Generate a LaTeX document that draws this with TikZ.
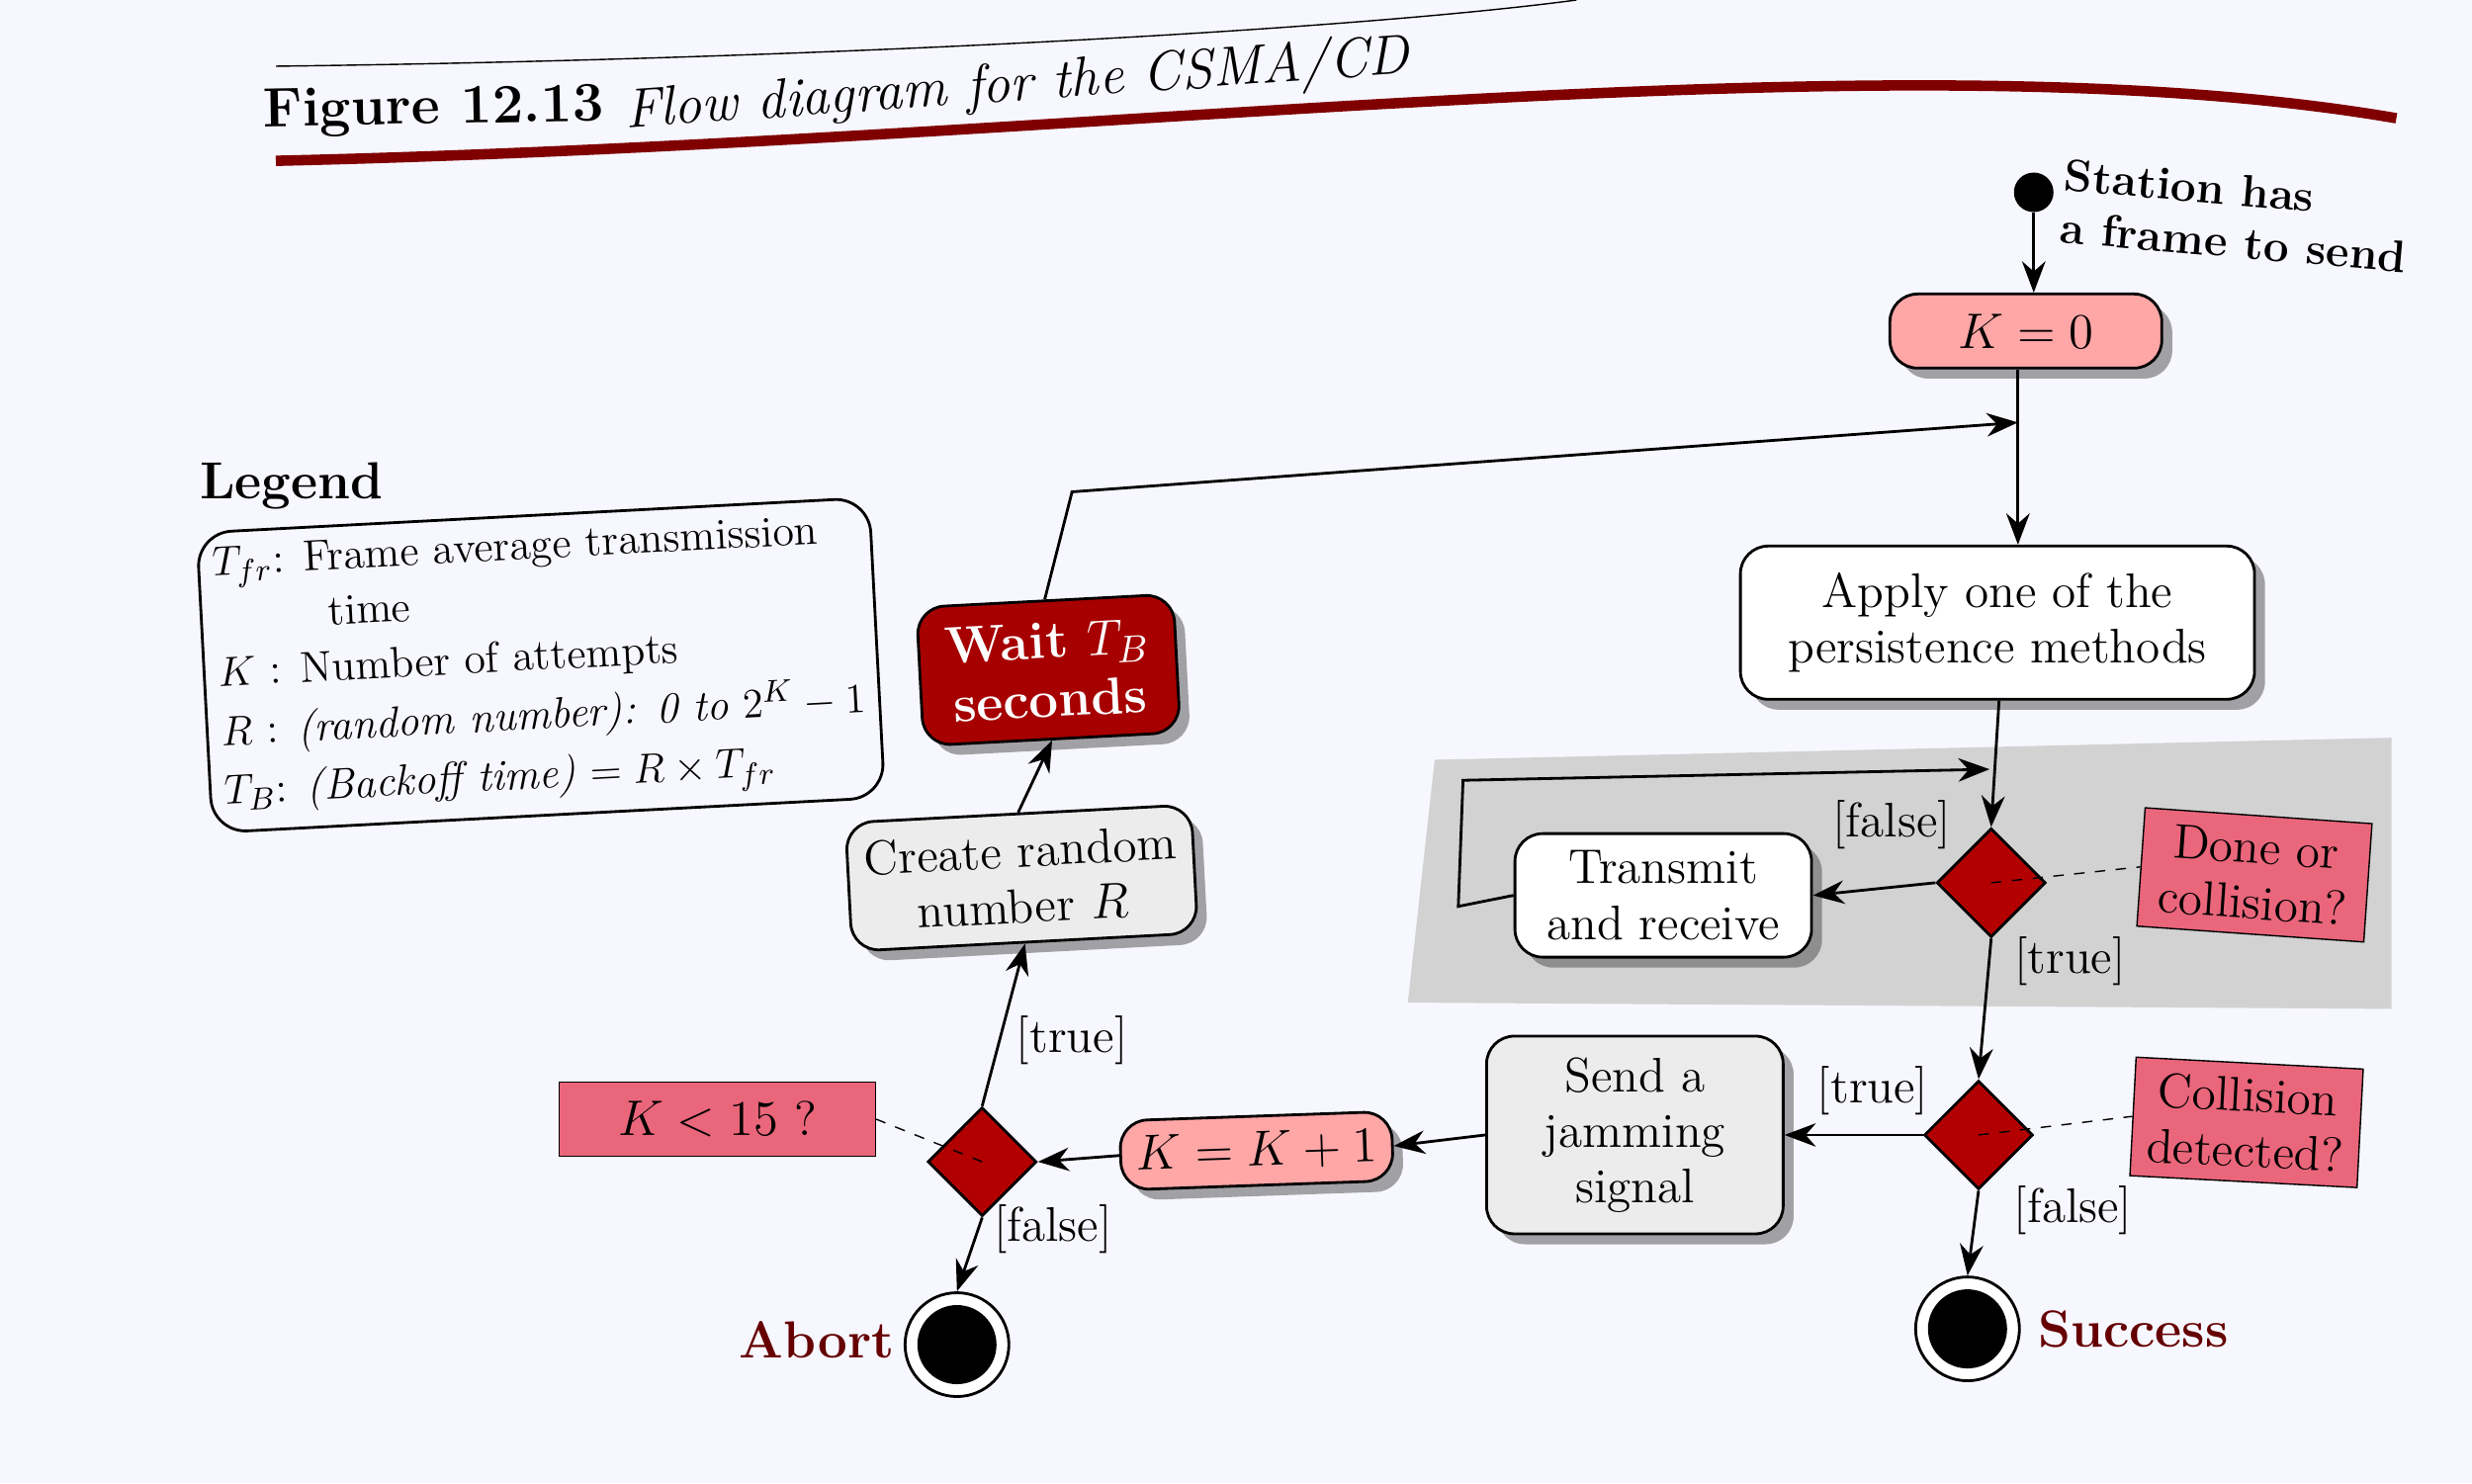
\documentclass[tikz,border=0pt]{standalone}
\usetikzlibrary{shapes.geometric,arrows.meta,shadows}
\begin{document}
\begin{tikzpicture}[x=0.01594cm,y=-0.01594cm,
  every node/.style={font=\fontsize{14}{16}\selectfont},
  box/.style={draw,thick,rounded corners=8pt,align=center,drop shadow={shadow xshift=3pt,shadow yshift=-3pt,fill=black!70}},
  pinkbox/.style={box,fill=red!25!pink!80!white},
  graybox/.style={box,fill=gray!15},
  dia/.style={diamond,draw,thick,fill=red!70!black,inner sep=0pt,minimum width=1.1cm,minimum height=1.1cm},
  note/.style={draw,fill=purple!55!red!60,align=center,inner sep=4pt},
  arr/.style={-{Stealth[length=9pt]},thick},
  lab/.style={font=\fontsize{14}{16}\selectfont}]
\useasboundingbox (0,0) rectangle (1568,941);
\fill[blue!3] (0,0) rectangle (1568,941);
% title
\node[font=\fontsize{16}{18}\selectfont\bfseries,rotate=1] (fig) at (275,70) {Figure 12.13};
\node[font=\fontsize{16}{18}\selectfont\itshape,rotate=4] (ttl) at (645,55) {Flow diagram for the CSMA/CD};
\draw[line width=3pt,red!50!black] (175,102) .. controls (700,90) and (1200,20) .. (1520,75);
\draw[thin] (175,42) .. controls (500,38) and (850,20) .. (1000,0);
% start
\node[circle,fill=black,minimum size=0.4cm,inner sep=0pt] (start) at (1290,122) {};
\node[font=\fontsize{13}{15}\selectfont\bfseries,align=left,rotate=-5] (stl) at (1418,137) {Station has\\a frame to send};
\node[pinkbox,minimum width=2.75cm,minimum height=0.75cm] (k0) at (1285,210) {$K=0$};
\draw[arr] (start) -- (k0.north -| start);
\coordinate (merge) at (1280,268);
\node[box,fill=white,minimum width=5.2cm,minimum height=1.55cm] (apply) at (1267,395) {Apply one of the\\persistence methods};
\draw[arr] (k0.south -| merge) -- (merge) -- (apply.north -| merge);
% gray region
\fill[gray!35] (910,482) -- (1517,468) -- (1517,640) -- (893,636) -- cycle;
\node[dia] (d1) at (1263,560) {};
\draw[arr] (apply.south -| 1268,0) -- (d1.north);
\node[box,fill=white,minimum width=3cm,minimum height=1.25cm] (tx) at (1055,568) {Transmit\\and receive};
\draw[arr] (d1.west) -- (tx.east);
\draw[arr] (tx.west) -- (925,575) -- (928,495) -- (1262,488);
\node[lab] at (1200,523) {[false]};
\node[lab] at (1313,610) {[true]};
\node[note,minimum width=2.3cm,minimum height=1.2cm,rotate=-4] (n1) at (1430,555) {Done or\\collision?};
\draw[dashed] (d1.center) -- (n1.west);
% second diamond
\node[dia] (d2) at (1255,720) {};
\draw[arr] (d1.south) -- (d2.north);
\node[note,minimum width=2.3cm,minimum height=1.2cm,rotate=-3] (n2) at (1425,712) {Collision\\detected?};
\draw[dashed] (d2.center) -- (n2.west);
\node[graybox,minimum width=3cm,minimum height=2cm] (jam) at (1037,720) {Send a\\jamming\\signal};
\draw[arr] (d2.west) -- (jam.east);
\node[lab] at (1188,692) {[true]};
\node[circle,draw,thick,fill=white,minimum size=1.05cm,inner sep=0pt] (succ) at (1248,843) {};
\node[circle,fill=black,minimum size=0.8cm,inner sep=0pt] at (succ) {};
\draw[arr] (d2.south) -- (succ.north);
\node[lab] at (1315,768) {[false]};
\node[font=\fontsize{15}{17}\selectfont\bfseries,text=red!40!black,anchor=west] (sl) at (1285,843) {Success};
% K=K+1
\node[pinkbox,minimum width=2.75cm,minimum height=0.7cm,rotate=2] (kk) at (797,730) {$K=K+1$};
\draw[arr] (jam.west) -- (kk.east);
\node[dia] (d3) at (623,737) {};
\draw[arr] (kk.west) -- (d3.east);
\node[note,minimum width=3.2cm,minimum height=0.75cm] (n3) at (455,710) {$K<15$ ?};
\draw[dashed] (d3.center) -- (n3.east);
\node[graybox,minimum width=3.5cm,minimum height=1.3cm,rotate=3] (cr) at (648,557) {Create random\\number $R$};
\draw[arr] (d3.north) -- (cr.south);
\node[lab] at (680,660) {[true]};
\node[circle,draw,thick,fill=white,minimum size=1.05cm,inner sep=0pt] (abort) at (607,853) {};
\node[circle,fill=black,minimum size=0.8cm,inner sep=0pt] at (abort) {};
\draw[arr] (d3.south) -- (abort.north);
\node[lab] at (668,780) {[false]};
\node[font=\fontsize{15}{17}\selectfont\bfseries,text=red!40!black,anchor=east] (al) at (575,850) {Abort};
% wait
\node[box,fill=red!65!black,text=white,font=\fontsize{15}{17}\selectfont\bfseries,minimum width=2.6cm,minimum height=1.4cm,rotate=3] (wait) at (665,425) {Wait $T_B$\\seconds};
\draw[arr] (cr.north) -- (wait.south);
\draw[arr] (wait.north) -- (680,312) -- (merge);
% legend
\node[font=\fontsize{15}{17}\selectfont\bfseries] (lg) at (185,308) {Legend};
\node[draw,thick,rounded corners=10pt,align=left,rotate=3,inner sep=4pt,font=\fontsize{12.5}{14}\selectfont] (leg) at (343,422) {%
$T_{fr}$: Frame average transmission\\[2pt]
\hspace{2.6em}time\\[2pt]
$K$ : Number of attempts\\[3pt]
$R$ : \textit{(random number): 0 to} $2^K-1$\\[3pt]
$T_B$: \textit{(Backoff time)} $=R\times T_{fr}$\hspace{4em}};
\end{tikzpicture}
\end{document}
